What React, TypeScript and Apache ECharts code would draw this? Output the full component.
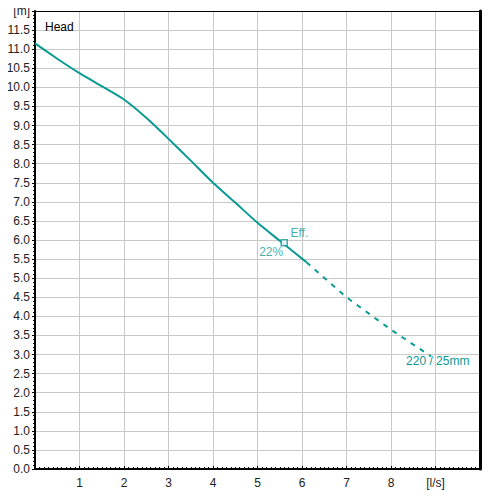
import React, { useEffect, useRef } from "react";
import * as echarts from "echarts";

const flowSolid = [0, 0.5, 1, 1.5, 2, 2.5, 3, 3.5, 4, 4.5, 5, 5.5, 6.1];
const headSolid = [11.15, 10.75, 10.37, 10.03, 9.68, 9.2, 8.65, 8.08, 7.5, 6.98, 6.45, 5.98, 5.42];
const flowDashed = [6.1, 7, 8, 8.9];
const headDashed = [5.42, 4.5, 3.65, 2.95];
const effPoint = [5.6, 5.93];
const effLabel = "Eff.";
const effValue = "22%";
const curveLabel = "220 / 25mm";
const xUnit = "[l/s]";
const yUnit = "[m]";

const TEAL = "#0a9a94";
const FONT = "Liberation Sans, Arial, sans-serif";

export default function App() {
  const ref = useRef<HTMLDivElement>(null);
  useEffect(() => {
    if (!ref.current) return;
    const chart = echarts.init(ref.current, undefined, { renderer: "svg" });
    chart.setOption({
      animation: false,
      backgroundColor: "#fff",
      textStyle: { fontFamily: FONT },
      title: {
        text: "Head",
        left: 40,
        top: 16,
        textStyle: { fontSize: 12, fontWeight: "normal", color: "#000", fontFamily: FONT },
      },
      grid: { left: 35, top: 11, right: 20, bottom: 31, show: false },
      xAxis: [
        {
          type: "value",
          min: 0,
          max: 10,
          interval: 1,
          position: "bottom",
          axisLine: { show: true, onZero: false, lineStyle: { color: "#000", width: 2 } },
          axisTick: { show: true, inside: true, length: 3, lineStyle: { color: "#000" } },
          minorTick: { show: true, splitNumber: 10, length: 2, lineStyle: { color: "#000" } },
          axisLabel: {
            color: "#222",
            fontSize: 12,
            margin: 8,
            formatter: (v: number) => (v === 9 ? xUnit : v === 0 || v === 10 ? "" : String(v)),
          },
          splitLine: { show: true, lineStyle: { color: "#c8c8c8", width: 1 } },
        },
        {
          type: "value",
          min: 0,
          max: 10,
          position: "top",
          axisLine: { show: true, onZero: false, lineStyle: { color: "#000", width: 1 } },
          axisTick: { show: false },
          axisLabel: { show: false },
          splitLine: { show: false },
        },
      ],
      yAxis: [
        {
          type: "value",
          min: 0,
          max: 12,
          interval: 0.5,
          axisLine: { show: true, onZero: false, lineStyle: { color: "#000", width: 2 } },
          axisTick: { show: true, length: 3, lineStyle: { color: "#000" } },
          minorTick: { show: true, splitNumber: 5, length: 2, lineStyle: { color: "#000" } },
          axisLabel: {
            color: "#222",
            fontSize: 12,
            margin: 5,
            formatter: (v: number) => (v === 12 ? yUnit : v.toFixed(1)),
          },
          splitLine: { show: true, lineStyle: { color: "#c8c8c8", width: 1 } },
        },
        {
          type: "value",
          min: 0,
          max: 12,
          position: "right",
          axisLine: { show: true, onZero: false, lineStyle: { color: "#000", width: 3 } },
          axisTick: { show: false },
          axisLabel: { show: false },
          splitLine: { show: false },
        },
      ],
      series: [
        {
          type: "line",
          data: flowSolid.map((f, i) => [f, headSolid[i]]),
          showSymbol: false,
          smooth: 0.2,
          lineStyle: { color: TEAL, width: 2 },
          z: 3,
        },
        {
          type: "line",
          data: flowDashed.map((f, i) => [f, headDashed[i]]),
          showSymbol: false,
          lineStyle: { color: TEAL, width: 2, type: [5, 6] },
          z: 3,
          markPoint: {
            symbol: "circle",
            symbolSize: 0,
            data: [
              {
                coord: [flowDashed[flowDashed.length - 1], headDashed[headDashed.length - 1]],
                label: {
                  show: true,
                  formatter: curveLabel,
                  position: [-25, -1],
                  align: "left",
                  verticalAlign: "top",
                  color: TEAL,
                  fontSize: 12,
                  fontFamily: FONT,
                },
              },
            ],
          },
        },
        {
          type: "scatter",
          data: [effPoint],
          symbol: "rect",
          symbolSize: 6,
          itemStyle: { color: "#fff", borderColor: TEAL, borderWidth: 1.5 },
          z: 4,
          label: {
            show: true,
            formatter: effLabel,
            position: [10, -12],
            align: "left",
            verticalAlign: "top",
            color: TEAL,
            fontSize: 12,
            fontFamily: FONT,
          },
        },
        {
          type: "scatter",
          data: [effPoint],
          symbol: "rect",
          symbolSize: 0,
          z: 4,
          label: {
            show: true,
            formatter: effValue,
            position: [-1, 3],
            align: "right",
            verticalAlign: "top",
            color: TEAL,
            fontSize: 12,
            fontFamily: FONT,
          },
        },
      ],
    });
    return () => chart.dispose();
  }, []);
  return <div ref={ref} style={{ width: 500, height: 500, margin: -8 }} />;
}
